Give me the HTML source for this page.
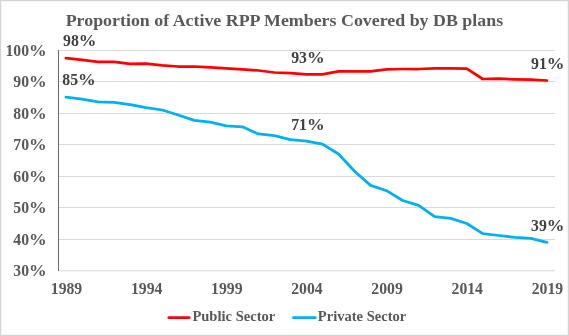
<!DOCTYPE html>
<html><head><meta charset="utf-8"><style>
html,body{margin:0;padding:0;background:#fff;}
svg{display:block;will-change:transform;}
text{font-family:"Liberation Serif",serif;font-weight:bold;}
</style></head><body>
<svg width="569" height="336" viewBox="0 0 569 336">
<rect x="0" y="0" width="569" height="336" fill="#fff"/>
<rect x="1.5" y="1.5" width="566" height="333" fill="none" stroke="#f5f5f5" stroke-width="1"/>
<rect x="0.5" y="0.5" width="568" height="335" fill="none" stroke="#d4d4d4" stroke-width="1"/>
<text transform="translate(284.40,25.50) scale(1.053,1)" font-size="17.0" fill="#595959" text-anchor="middle">Proportion of Active RPP Members Covered by DB plans</text>

<line x1="59" y1="50.5" x2="555" y2="50.5" stroke="#d9d9d9" stroke-width="1"/>
<line x1="59" y1="81.5" x2="555" y2="81.5" stroke="#d9d9d9" stroke-width="1"/>
<line x1="59" y1="113.5" x2="555" y2="113.5" stroke="#d9d9d9" stroke-width="1"/>
<line x1="59" y1="144.5" x2="555" y2="144.5" stroke="#d9d9d9" stroke-width="1"/>
<line x1="59" y1="176.5" x2="555" y2="176.5" stroke="#d9d9d9" stroke-width="1"/>
<line x1="59" y1="207.5" x2="555" y2="207.5" stroke="#d9d9d9" stroke-width="1"/>
<line x1="59" y1="239.5" x2="555" y2="239.5" stroke="#d9d9d9" stroke-width="1"/>
<line x1="59" y1="270.8" x2="555" y2="270.8" stroke="#d9d9d9" stroke-width="1"/>

<line x1="58.5" y1="50" x2="58.5" y2="271" stroke="#6a6a6a" stroke-width="1"/>
<text transform="translate(29.10,55.90) scale(0.955,1)" font-size="16.5" fill="#595959" text-anchor="end">100</text>
<text transform="translate(29.10,55.90) scale(1.07,1)" font-size="16.5" fill="#595959">%</text>
<text transform="translate(29.10,86.90) scale(0.955,1)" font-size="16.5" fill="#595959" text-anchor="end">90</text>
<text transform="translate(29.10,86.90) scale(1.07,1)" font-size="16.5" fill="#595959">%</text>
<text transform="translate(29.10,118.90) scale(0.955,1)" font-size="16.5" fill="#595959" text-anchor="end">80</text>
<text transform="translate(29.10,118.90) scale(1.07,1)" font-size="16.5" fill="#595959">%</text>
<text transform="translate(29.10,149.90) scale(0.955,1)" font-size="16.5" fill="#595959" text-anchor="end">70</text>
<text transform="translate(29.10,149.90) scale(1.07,1)" font-size="16.5" fill="#595959">%</text>
<text transform="translate(29.10,181.90) scale(0.955,1)" font-size="16.5" fill="#595959" text-anchor="end">60</text>
<text transform="translate(29.10,181.90) scale(1.07,1)" font-size="16.5" fill="#595959">%</text>
<text transform="translate(29.10,212.90) scale(0.955,1)" font-size="16.5" fill="#595959" text-anchor="end">50</text>
<text transform="translate(29.10,212.90) scale(1.07,1)" font-size="16.5" fill="#595959">%</text>
<text transform="translate(29.10,244.90) scale(0.955,1)" font-size="16.5" fill="#595959" text-anchor="end">40</text>
<text transform="translate(29.10,244.90) scale(1.07,1)" font-size="16.5" fill="#595959">%</text>
<text transform="translate(29.10,275.90) scale(0.955,1)" font-size="16.5" fill="#595959" text-anchor="end">30</text>
<text transform="translate(29.10,275.90) scale(1.07,1)" font-size="16.5" fill="#595959">%</text>

<text transform="translate(66.50,294.00) scale(0.955,1)" font-size="16.5" fill="#595959" text-anchor="middle">1989</text>
<text transform="translate(146.65,294.00) scale(0.955,1)" font-size="16.5" fill="#595959" text-anchor="middle">1994</text>
<text transform="translate(226.80,294.00) scale(0.955,1)" font-size="16.5" fill="#595959" text-anchor="middle">1999</text>
<text transform="translate(306.95,294.00) scale(0.955,1)" font-size="16.5" fill="#595959" text-anchor="middle">2004</text>
<text transform="translate(387.10,294.00) scale(0.955,1)" font-size="16.5" fill="#595959" text-anchor="middle">2009</text>
<text transform="translate(467.25,294.00) scale(0.955,1)" font-size="16.5" fill="#595959" text-anchor="middle">2014</text>
<text transform="translate(547.40,294.00) scale(0.955,1)" font-size="16.5" fill="#595959" text-anchor="middle">2019</text>

<polyline points="66.00,58.10 82.03,59.80 98.06,61.80 114.09,61.80 130.12,63.90 146.15,63.60 162.18,65.30 178.21,66.50 194.24,66.50 210.27,67.30 226.30,68.30 242.33,69.40 258.36,70.50 274.39,72.50 290.42,73.10 306.45,74.30 322.48,74.30 338.51,71.40 354.54,71.40 370.57,71.40 386.60,69.30 402.63,69.00 418.66,69.00 434.69,68.40 450.72,68.40 466.75,68.70 482.78,79.00 498.81,78.70 514.84,79.30 530.87,79.70 546.90,80.50" fill="none" stroke="#ff0000" stroke-width="2.75" stroke-linejoin="round" stroke-linecap="round"/>
<polyline points="66.00,97.20 82.03,99.10 98.06,101.90 114.09,102.30 130.12,104.70 146.15,107.70 162.18,110.00 178.21,115.00 194.24,120.40 210.27,122.10 226.30,125.95 242.33,126.85 258.36,133.95 274.39,135.55 290.42,139.65 306.45,141.15 322.48,144.10 338.51,154.00 354.54,171.25 370.57,185.40 386.60,190.70 402.63,200.50 418.66,205.40 434.69,216.70 450.72,218.40 466.75,223.50 482.78,233.70 498.81,235.50 514.84,237.30 530.87,238.30 546.90,242.40" fill="none" stroke="#00b0f0" stroke-width="2.75" stroke-linejoin="round" stroke-linecap="round"/>
<text transform="translate(78.80,46.00) scale(0.955,1)" font-size="16.5" fill="#404040" text-anchor="end">98</text>
<text transform="translate(78.80,46.00) scale(1.07,1)" font-size="16.5" fill="#404040">%</text>
<text transform="translate(78.00,84.90) scale(0.955,1)" font-size="16.5" fill="#404040" text-anchor="end">85</text>
<text transform="translate(78.00,84.90) scale(1.07,1)" font-size="16.5" fill="#404040">%</text>
<text transform="translate(306.90,62.90) scale(0.955,1)" font-size="16.5" fill="#404040" text-anchor="end">93</text>
<text transform="translate(306.90,62.90) scale(1.07,1)" font-size="16.5" fill="#404040">%</text>
<text transform="translate(306.90,129.60) scale(0.955,1)" font-size="16.5" fill="#404040" text-anchor="end">71</text>
<text transform="translate(306.90,129.60) scale(1.07,1)" font-size="16.5" fill="#404040">%</text>
<text transform="translate(546.80,68.70) scale(0.955,1)" font-size="16.5" fill="#404040" text-anchor="end">91</text>
<text transform="translate(546.80,68.70) scale(1.07,1)" font-size="16.5" fill="#404040">%</text>
<text transform="translate(546.80,230.60) scale(0.955,1)" font-size="16.5" fill="#404040" text-anchor="end">39</text>
<text transform="translate(546.80,230.60) scale(1.07,1)" font-size="16.5" fill="#404040">%</text>

<line x1="168.8" y1="317.5" x2="189.2" y2="317.5" stroke="#ff0000" stroke-width="2.75" stroke-linecap="round"/>
<text transform="translate(192.40,321.30) scale(1.07,1)" font-size="13.6" fill="#595959">Public Sector</text>

<line x1="293.4" y1="317.5" x2="315.3" y2="317.5" stroke="#00b0f0" stroke-width="2.75" stroke-linecap="round"/>
<text transform="translate(317.80,321.30) scale(1.07,1)" font-size="13.6" fill="#595959">Private Sector</text>

</svg>
</body></html>
